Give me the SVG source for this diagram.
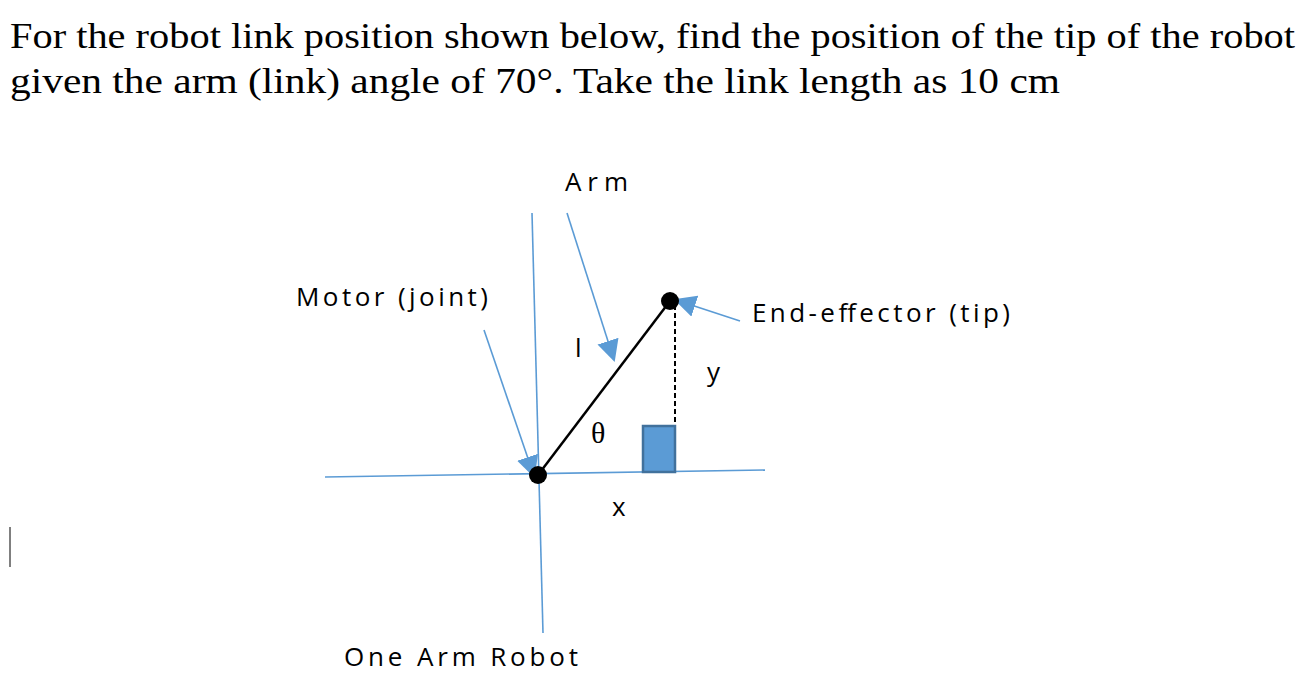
<svg xmlns="http://www.w3.org/2000/svg" width="1306" height="691" viewBox="0 0 1306 691">
<style>
.t{font-family:"Liberation Serif",serif;font-size:36px;fill:#000}
.l{font-family:"Open Sans","Liberation Sans",sans-serif;font-size:26px;fill:#000}
.b{stroke:#5b9bd5;stroke-width:1.6;fill:none}
</style>
<defs>
<marker id="A" viewBox="0 0 10 10" refX="9" refY="5" markerWidth="22" markerHeight="22" markerUnits="userSpaceOnUse" orient="auto"><path d="M0,0 L10,5 L0,10z" fill="#5b9bd5"/></marker></defs>
<rect width="1306" height="691" fill="#fff"/>
<text class="t" x="10" y="48" textLength="1285" lengthAdjust="spacingAndGlyphs">For the robot link position shown below, find the position of the tip of the robot</text>
<text class="t" x="10" y="93" textLength="1050" lengthAdjust="spacingAndGlyphs">given the arm (link) angle of 70°.  Take the link length as 10 cm</text>
<line x1="10" y1="527" x2="10" y2="567" stroke="#000" stroke-width="1"/>
<g id="connectors">
<line class="b" x1="532" y1="213" x2="543" y2="633"/>
<line class="b" x1="325" y1="477" x2="765" y2="470"/>
<line class="b" x1="567" y1="213" x2="614" y2="360" marker-end="url(#A)"/>
<line class="b" x1="484" y1="330" x2="534" y2="476" marker-end="url(#A)"/>
<line class="b" x1="740" y1="321" x2="676" y2="300" marker-end="url(#A)"/>
<line x1="538" y1="475" x2="670" y2="301" stroke="#000" stroke-width="2.5"/>
<line x1="675" y1="305" x2="675" y2="472" stroke="#000" stroke-width="2" stroke-dasharray="5,3"/>
</g>
<g id="base"><circle cx="538" cy="475" r="9" fill="#000"/></g>
<g id="tip"><circle cx="670" cy="301" r="9" fill="#000"/></g>
<g id="block"><rect x="643" y="426" width="32" height="46" fill="#5b9bd5" stroke="#41719c" stroke-width="2.5"/></g>
<text class="l" x="565" y="191" textLength="63">Arm</text>
<text class="l" x="296" y="306" textLength="192">Motor (joint)</text>
<text class="l" x="752" y="322" textLength="258">End-effector (tip)</text>
<text class="l" x="575" y="357">l</text>
<text class="l" x="707" y="381">y</text>
<text class="t" x="591" y="443" style="font-size:30px">θ</text>
<text class="l" x="612" y="516">x</text>
<text class="l" x="344" y="666" textLength="234">One Arm Robot</text>
</svg>
